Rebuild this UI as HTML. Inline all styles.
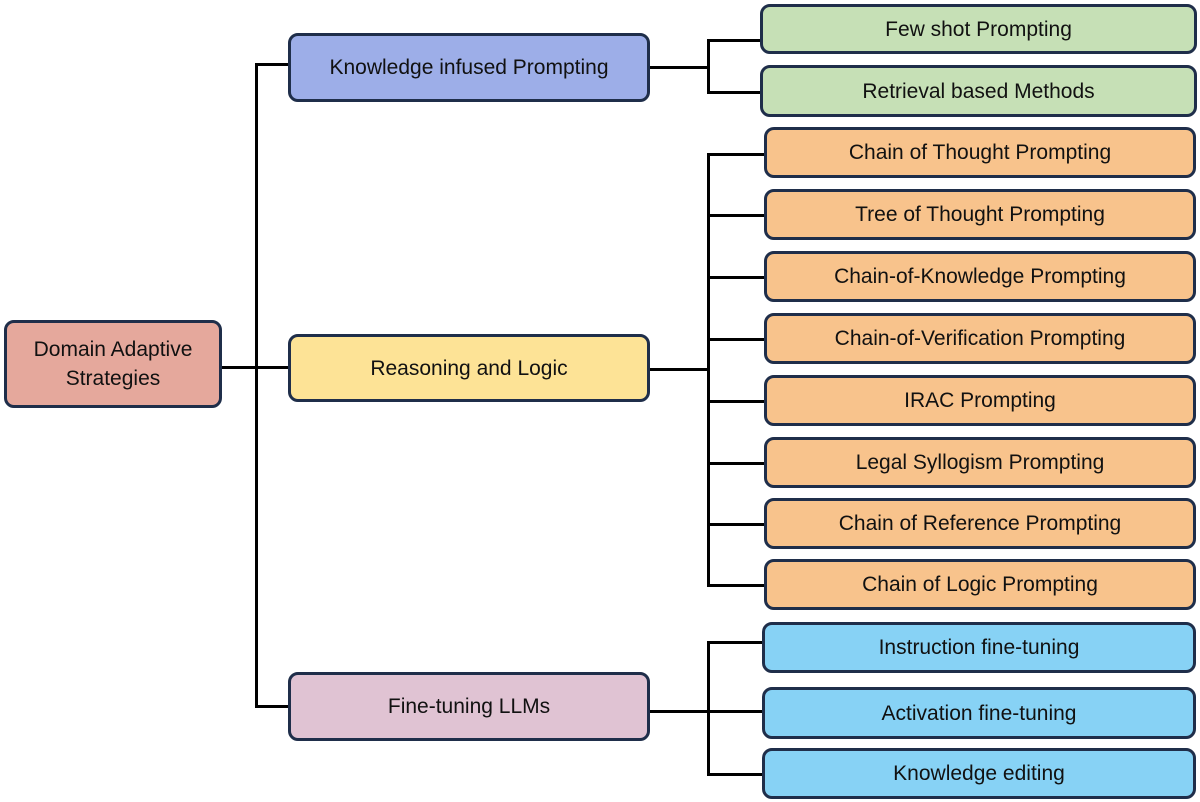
<!DOCTYPE html>
<html><head><meta charset="utf-8"><style>
body{margin:0;width:1200px;height:802px;background:#fff;position:relative;overflow:hidden;font-family:"Liberation Sans","DejaVu Sans",sans-serif;}
.b{position:absolute;box-sizing:border-box;border:3px solid #1f2e4a;border-radius:10px;display:flex;align-items:center;justify-content:center;text-align:center;font-size:21px;color:#111;line-height:29px;}
.l{position:absolute;background:#000;}
</style></head><body>
<div class="l" style="left:222px;top:366px;width:66px;height:3px"></div>
<div class="l" style="left:255px;top:63px;width:3px;height:644px"></div>
<div class="l" style="left:255px;top:63px;width:33px;height:3px"></div>
<div class="l" style="left:255px;top:705px;width:33px;height:3px"></div>
<div class="l" style="left:650px;top:66px;width:58px;height:3px"></div>
<div class="l" style="left:707px;top:39px;width:3px;height:54px"></div>
<div class="l" style="left:707px;top:39px;width:53px;height:3px"></div>
<div class="l" style="left:707px;top:91px;width:53px;height:3px"></div>
<div class="l" style="left:650px;top:368px;width:58px;height:3px"></div>
<div class="l" style="left:707px;top:153px;width:3px;height:434px"></div>
<div class="l" style="left:707px;top:153px;width:57px;height:3px"></div>
<div class="l" style="left:707px;top:214px;width:57px;height:3px"></div>
<div class="l" style="left:707px;top:276px;width:57px;height:3px"></div>
<div class="l" style="left:707px;top:338px;width:57px;height:3px"></div>
<div class="l" style="left:707px;top:400px;width:57px;height:3px"></div>
<div class="l" style="left:707px;top:462px;width:57px;height:3px"></div>
<div class="l" style="left:707px;top:523px;width:57px;height:3px"></div>
<div class="l" style="left:707px;top:584px;width:57px;height:3px"></div>
<div class="l" style="left:650px;top:710px;width:112px;height:3px"></div>
<div class="l" style="left:707px;top:641px;width:3px;height:134px"></div>
<div class="l" style="left:707px;top:641px;width:55px;height:3px"></div>
<div class="l" style="left:707px;top:773px;width:55px;height:3px"></div>

<div class="b" style="left:4px;top:320px;width:218px;height:88px;background:#e5a89c">Domain Adaptive<br>Strategies</div>
<div class="b" style="left:288px;top:33px;width:362px;height:69px;background:#9daee8">Knowledge infused Prompting</div>
<div class="b" style="left:288px;top:334px;width:362px;height:68px;background:#fde396">Reasoning and Logic</div>
<div class="b" style="left:288px;top:672px;width:362px;height:69px;background:#e0c3d3">Fine-tuning LLMs</div>

<div class="b" style="left:760px;top:4px;width:437px;height:50px;background:#c6e0b6">Few shot Prompting</div>
<div class="b" style="left:760px;top:65px;width:437px;height:52px;background:#c6e0b6">Retrieval based Methods</div>

<div class="b" style="left:764px;top:127px;width:432px;height:51px;background:#f8c38c">Chain of Thought Prompting</div>
<div class="b" style="left:764px;top:189px;width:432px;height:51px;background:#f8c38c">Tree of Thought Prompting</div>
<div class="b" style="left:764px;top:251px;width:432px;height:51px;background:#f8c38c">Chain-of-Knowledge Prompting</div>
<div class="b" style="left:764px;top:313px;width:432px;height:51px;background:#f8c38c">Chain-of-Verification Prompting</div>
<div class="b" style="left:764px;top:375px;width:432px;height:51px;background:#f8c38c">IRAC Prompting</div>
<div class="b" style="left:764px;top:437px;width:432px;height:51px;background:#f8c38c">Legal Syllogism Prompting</div>
<div class="b" style="left:764px;top:498px;width:432px;height:51px;background:#f8c38c">Chain of Reference Prompting</div>
<div class="b" style="left:764px;top:559px;width:432px;height:51px;background:#f8c38c">Chain of Logic Prompting</div>

<div class="b" style="left:762px;top:622px;width:434px;height:51px;background:#87d2f5">Instruction fine-tuning</div>
<div class="b" style="left:762px;top:687px;width:434px;height:52px;background:#87d2f5">Activation fine-tuning</div>
<div class="b" style="left:762px;top:748px;width:434px;height:51px;background:#87d2f5">Knowledge editing</div>
</body></html>
